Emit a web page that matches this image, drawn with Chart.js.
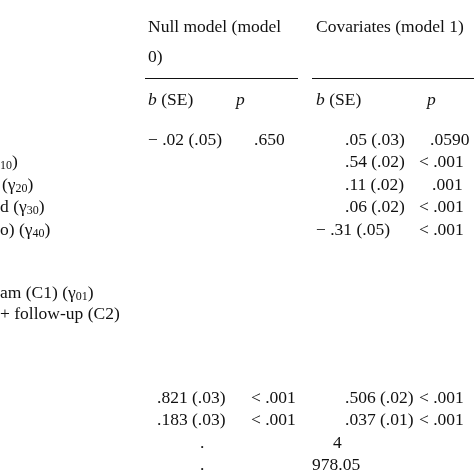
<!DOCTYPE html>
<html>
<head>
<meta charset="utf-8">
<script src="https://cdn.jsdelivr.net/npm/chart.js@4"></script>
<style>
  html, body { margin: 0; padding: 0; background: #fff; }
  #wrap { width: 474px; height: 474px; }
</style>
</head>
<body>
<div id="wrap"><canvas id="c"></canvas></div>
<script>
// Table content, cells placed on hidden linear axes (0..474)
// markup: *x* = italic, _{x} = subscript
const headerCells = [
  ['Null model (model', 148, 27], ['0)', 148, 57],
  ['Covariates (model 1)', 316, 27],
  ['*b* (SE)', 148, 100], ['*p*', 236, 100],
  ['*b* (SE)', 316, 100], ['*p*', 427, 100]
];
const labelCells = [
  ['_{10})', 0, 162],
  ['(γ_{20})', 2, 185],
  ['d (γ_{30})', 0, 207],
  ['o) (γ_{40})', 0, 230],
  ['am (C1) (γ_{01})', 0, 293],
  ['+ follow-up (C2)', 0, 314]
];
const nullModelCells = [
  ['− .02 (.05)', 148, 140], ['.650', 254, 140],
  ['.821 (.03)', 157, 398], ['< .001', 251, 398],
  ['.183 (.03)', 157, 420], ['< .001', 251, 420],
  ['.', 200, 443], ['.', 200, 465]
];
const covariateCells = [
  ['.05 (.03)', 345, 140], ['.0590', 430, 140],
  ['.54 (.02)', 345, 162], ['< .001', 419, 162],
  ['.11 (.02)', 345, 185], ['.001', 432, 185],
  ['.06 (.02)', 345, 207], ['< .001', 419, 207],
  ['− .31 (.05)', 316, 230], ['< .001', 419, 230],
  ['.506 (.02)', 345, 398], ['< .001', 419, 398],
  ['.037 (.01)', 345, 420], ['< .001', 419, 420],
  ['4', 333, 443],
  ['978.05', 312, 465]
];
const rules = [[145, 298, 78], [312, 474, 78]];

const FONT = '"Liberation Serif", "Times New Roman", serif';

function drawRich(ctx, text, x, y) {
  const parts = text.split(/(\*[^*]+\*|_\{[^}]+\})/).filter(s => s);
  let cx = x;
  parts.forEach(p => {
    let t = p, dy = 0, f = '17.5px ' + FONT;
    if (p.startsWith('*')) { t = p.slice(1, -1); f = 'italic 17.5px ' + FONT; }
    else if (p.startsWith('_{')) { t = p.slice(2, -1); f = '12px ' + FONT; dy = 4; }
    ctx.font = f;
    ctx.fillText(t, cx, y + dy);
    cx += ctx.measureText(t).width;
  });
}

const tablePlugin = {
  id: 'tableText',
  afterDraw(chart) {
    const { ctx, scales: { x, y } } = chart;
    ctx.save();
    ctx.fillStyle = '#111';
    ctx.textBaseline = 'middle';
    [...headerCells, ...labelCells, ...nullModelCells, ...covariateCells].forEach(([t, vx, vy]) => {
      drawRich(ctx, t, x.getPixelForValue(vx), y.getPixelForValue(vy));
    });
    ctx.strokeStyle = '#111';
    ctx.lineWidth = 1;
    rules.forEach(([x0, x1, vy]) => {
      const py = Math.round(y.getPixelForValue(vy)) + 0.5;
      ctx.beginPath();
      ctx.moveTo(x.getPixelForValue(x0), py);
      ctx.lineTo(x.getPixelForValue(x1), py);
      ctx.stroke();
    });
    ctx.restore();
  }
};

new Chart(document.getElementById('c'), {
  type: 'scatter',
  data: { datasets: [{ data: [], pointRadius: 0 }] },
  options: {
    responsive: true,
    maintainAspectRatio: false,
    animation: false,
    layout: { padding: 0 },
    plugins: { legend: { display: false }, tooltip: { enabled: false } },
    scales: {
      x: { type: 'linear', min: 0, max: 474, display: false },
      y: { type: 'linear', min: 0, max: 474, reverse: true, display: false }
    }
  },
  plugins: [tablePlugin]
});
</script>
</body>
</html>
